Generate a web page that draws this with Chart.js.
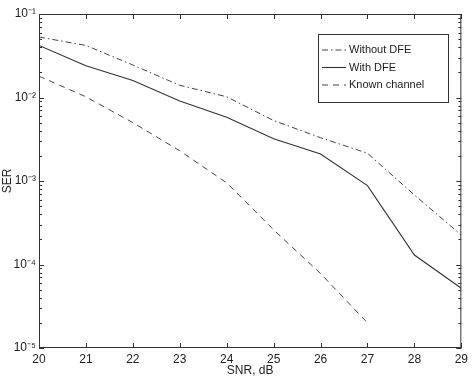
<!DOCTYPE html>
<html>
<head>
<meta charset="utf-8">
<script src="https://cdn.jsdelivr.net/npm/chart.js@4.4.1/dist/chart.umd.min.js"></script>
<style>
   html, body { margin: 0; padding: 0; background: #fff; }
   #wrap { width: 474px; height: 377px; }
</style>
</head>
<body>
<div id="wrap"><canvas id="graphique"></canvas></div>
<script>
// SNR values (dB)
const snr = [20, 21, 22, 23, 24, 25, 26, 27, 28, 29];
// SER curves
const withoutDfe = [0.053, 0.042, 0.0245, 0.014, 0.0102, 0.0053, 0.0033, 0.00215, 0.00068, 0.000225];
const withDfe = [0.042, 0.024, 0.016, 0.0091, 0.0058, 0.0032, 0.0021, 0.00088, 0.00013, 0.000052];
const knownChannel = [0.018, 0.0102, 0.005, 0.0023, 0.00095, 0.00026, 0.000078, 0.00002];
const legendLabels = ['Without DFE', 'With DFE', 'Known channel'];
const yTicks = [1e-5, 1e-4, 1e-3, 1e-2, 1e-1];
const yTickLabels = ['10\u207B\u2075', '10\u207B\u2074', '10\u207B\u00B3', '10\u207B\u00B2', '10\u207B\u00B9'];

const INK = '#333';
const FONT = "'Liberation Sans', Arial, sans-serif";

function points(values) {
   return values.map((v, i) => ({ x: snr[i], y: v }));
}

// frame, inward ticks and legend box, matlab style
const cadre = {
   id: 'cadre',
   afterDraw(chart) {
      const c = chart.ctx;
      const a = chart.chartArea;
      const xs = chart.scales.x;
      const ys = chart.scales.y;
      c.save();
      c.strokeStyle = INK;
      c.lineWidth = 1;
      c.setLineDash([]);
      c.strokeRect(a.left + 0.5, a.top + 0.5, a.right - a.left - 1, a.bottom - a.top - 1);

      c.beginPath();
      for (const t of snr) {
         const px = Math.round(xs.getPixelForValue(t)) + 0.5;
         c.moveTo(px, a.bottom); c.lineTo(px, a.bottom - 5);
         c.moveTo(px, a.top); c.lineTo(px, a.top + 5);
      }
      for (let d = -5; d < -1 + 0.5; d++) {
         for (let m = 1; m <= 9; m++) {
            if (d === -1 && m > 1) break;
            const v = m * Math.pow(10, d);
            const py = Math.round(ys.getPixelForValue(v)) + 0.5;
            const len = m === 1 ? 5 : 3;
            c.moveTo(a.left, py); c.lineTo(a.left + len, py);
            c.moveTo(a.right, py); c.lineTo(a.right - len, py);
         }
      }
      c.stroke();

      // legend
      const bx = 318, by = 34, bw = 130, bh = 68;
      c.fillStyle = '#fff';
      c.fillRect(bx, by, bw, bh);
      c.strokeRect(bx + 0.5, by + 0.5, bw, bh);
      chart.data.datasets.forEach((ds, i) => {
         const y = by + 16 + i * 17.5;
         c.beginPath();
         c.strokeStyle = ds.borderColor;
         c.lineWidth = ds.borderWidth;
         c.setLineDash(ds.borderDash || []);
         c.moveTo(bx + 4, y); c.lineTo(bx + 28, y);
         c.stroke();
         c.fillStyle = '#222';
         c.font = '11px ' + FONT;
         c.textBaseline = 'middle';
         c.fillText(legendLabels[i], bx + 31, y);
      });
      c.restore();
   }
};

new Chart(document.getElementById('graphique'), {
   type: 'line',
   data: {
      datasets: [{
         label: legendLabels[0],
         data: points(withoutDfe),
         borderColor: '#444',
         borderWidth: 1,
         borderDash: [6, 3, 1.5, 3]
      }, {
         label: legendLabels[1],
         data: points(withDfe),
         borderColor: '#333',
         borderWidth: 1.1
      }, {
         label: legendLabels[2],
         data: points(knownChannel),
         borderColor: '#444',
         borderWidth: 1,
         borderDash: [6, 5]
      }]
   },
   options: {
      responsive: true,
      maintainAspectRatio: false,
      animation: false,
      elements: { point: { radius: 0 }, line: { tension: 0 } },
      layout: { padding: { top: 14, right: 11, left: 0, bottom: 0 } },
      plugins: { legend: { display: false }, tooltip: { enabled: false } },
      scales: {
         x: {
            type: 'linear',
            min: 20,
            max: 29,
            grid: { display: false, drawTicks: false },
            border: { display: false },
            ticks: { stepSize: 1, color: '#222', padding: 6, font: { family: FONT, size: 12, lineHeight: 1 } },
            title: { display: true, text: 'SNR, dB', color: '#222', padding: { top: 2, bottom: 0 }, font: { family: FONT, size: 12, lineHeight: 1 } },
            afterFit: s => { s.height = 29; }
         },
         y: {
            type: 'logarithmic',
            min: 1e-5,
            max: 1e-1,
            grid: { display: false, drawTicks: false },
            border: { display: false },
            afterBuildTicks: s => { s.ticks = yTicks.map(v => ({ value: v, major: true })); },
            ticks: {
               color: '#222',
               padding: 3,
               font: { family: FONT, size: 12 },
               callback: v => yTickLabels[yTicks.findIndex(t => Math.abs(t - v) / t < 1e-6)]
            },
            title: { display: true, text: 'SER', color: '#222', padding: 0, font: { family: FONT, size: 12 } },
            afterFit: s => { s.width = 39; }
         }
      }
   },
   plugins: [cadre]
});
</script>
</body>
</html>
